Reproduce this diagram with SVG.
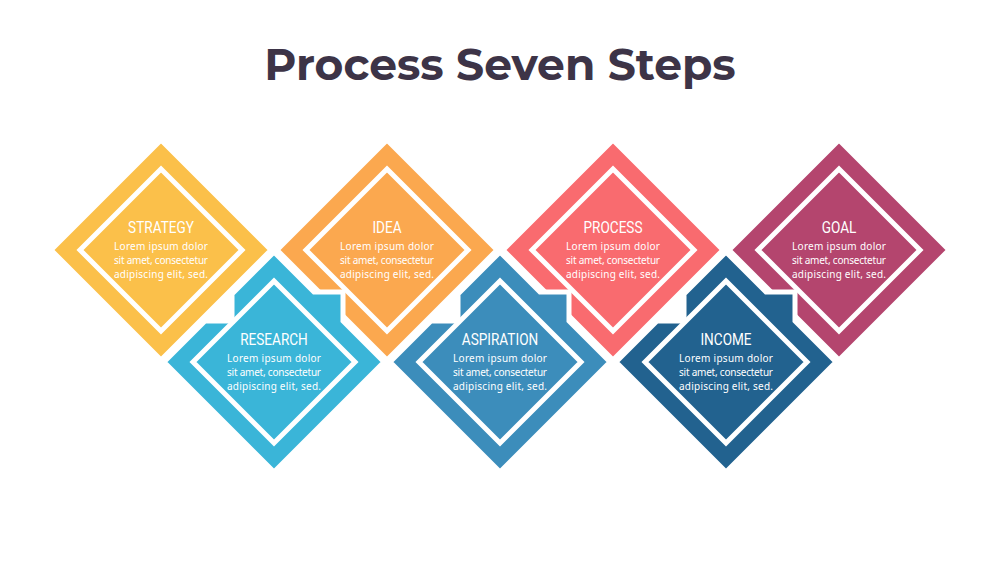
<svg xmlns="http://www.w3.org/2000/svg" width="1000" height="563" viewBox="0 0 1000 563">
<style>
.o{stroke:#fff;stroke-width:5;stroke-linejoin:miter}
.i{fill:none;stroke:#fff;stroke-width:5}
.h{font-family:Roboto,"Liberation Sans",sans-serif;font-size:16px;fill:#fff;text-anchor:middle}
.b{font-family:"Noto Sans","Liberation Sans",sans-serif;font-size:10px;fill:#fff;text-anchor:middle}
</style>
<defs>
<path id="inner" d="M0,-81 L81,0 L0,81 L-81,0 Z"/>
</defs>
<rect width="1000" height="563" fill="#fff"/>
<text x="500" y="80" font-family="Montserrat,'Liberation Sans',sans-serif" font-weight="bold" font-size="44" fill="#3d3447" text-anchor="middle">Process Seven Steps</text>
<g id="strategy" transform="translate(161,250)">
<path class="o" fill="#fbc04a" d="M0,-110 L110,0 L0,110 L-110,0 Z"/><use href="#inner" class="i"/>
<text class="h" y="-17" transform="scale(0.85,1)">STRATEGY</text>
<text class="b" y="0" textLength="94" lengthAdjust="spacing">Lorem  ipsum  dolor</text><text class="b" y="14" textLength="94" lengthAdjust="spacing">sit amet, consectetur</text><text class="b" y="28" textLength="94" lengthAdjust="spacing">adipiscing  elit,  sed.</text></g>
<g id="idea" transform="translate(387,250)">
<path class="o" fill="#fba84f" d="M0,-110 L110,0 L0,110 L-110,0 Z"/><use href="#inner" class="i"/>
<text class="h" y="-17" transform="scale(0.85,1)">IDEA</text>
<text class="b" y="0" textLength="94" lengthAdjust="spacing">Lorem  ipsum  dolor</text><text class="b" y="14" textLength="94" lengthAdjust="spacing">sit amet, consectetur</text><text class="b" y="28" textLength="94" lengthAdjust="spacing">adipiscing  elit,  sed.</text></g>
<g id="process" transform="translate(613,250)">
<path class="o" fill="#f96b6f" d="M0,-110 L110,0 L0,110 L-110,0 Z"/><use href="#inner" class="i"/>
<text class="h" y="-17" transform="scale(0.85,1)">PROCESS</text>
<text class="b" y="0" textLength="94" lengthAdjust="spacing">Lorem  ipsum  dolor</text><text class="b" y="14" textLength="94" lengthAdjust="spacing">sit amet, consectetur</text><text class="b" y="28" textLength="94" lengthAdjust="spacing">adipiscing  elit,  sed.</text></g>
<g id="goal" transform="translate(839,250)">
<path class="o" fill="#b4456e" d="M0,-110 L110,0 L0,110 L-110,0 Z"/><use href="#inner" class="i"/>
<text class="h" y="-17" transform="scale(0.85,1)">GOAL</text>
<text class="b" y="0" textLength="94" lengthAdjust="spacing">Lorem  ipsum  dolor</text><text class="b" y="14" textLength="94" lengthAdjust="spacing">sit amet, consectetur</text><text class="b" y="28" textLength="94" lengthAdjust="spacing">adipiscing  elit,  sed.</text></g>
<g id="research" transform="translate(274,362)">
<path class="o" fill="#3ab5d8" d="M0,-110 L40,-70 L69,-70 L69,-41 L110,0 L0,110 L-110,0 L-69,-41 L-42,-41 L-42,-68 Z"/><use href="#inner" class="i"/>
<text class="h" y="-17" transform="scale(0.85,1)">RESEARCH</text>
<text class="b" y="0" textLength="94" lengthAdjust="spacing">Lorem  ipsum  dolor</text><text class="b" y="14" textLength="94" lengthAdjust="spacing">sit amet, consectetur</text><text class="b" y="28" textLength="94" lengthAdjust="spacing">adipiscing  elit,  sed.</text></g>
<g id="aspiration" transform="translate(500,362)">
<path class="o" fill="#3c8dbb" d="M0,-110 L40,-70 L69,-70 L69,-41 L110,0 L0,110 L-110,0 L-69,-41 L-42,-41 L-42,-68 Z"/><use href="#inner" class="i"/>
<text class="h" y="-17" transform="scale(0.85,1)">ASPIRATION</text>
<text class="b" y="0" textLength="94" lengthAdjust="spacing">Lorem  ipsum  dolor</text><text class="b" y="14" textLength="94" lengthAdjust="spacing">sit amet, consectetur</text><text class="b" y="28" textLength="94" lengthAdjust="spacing">adipiscing  elit,  sed.</text></g>
<g id="income" transform="translate(726,362)">
<path class="o" fill="#22628f" d="M0,-110 L40,-70 L69,-70 L69,-41 L110,0 L0,110 L-110,0 L-69,-41 L-42,-41 L-42,-68 Z"/><use href="#inner" class="i"/>
<text class="h" y="-17" transform="scale(0.85,1)">INCOME</text>
<text class="b" y="0" textLength="94" lengthAdjust="spacing">Lorem  ipsum  dolor</text><text class="b" y="14" textLength="94" lengthAdjust="spacing">sit amet, consectetur</text><text class="b" y="28" textLength="94" lengthAdjust="spacing">adipiscing  elit,  sed.</text></g>
<g id="connectors"/>
</svg>
